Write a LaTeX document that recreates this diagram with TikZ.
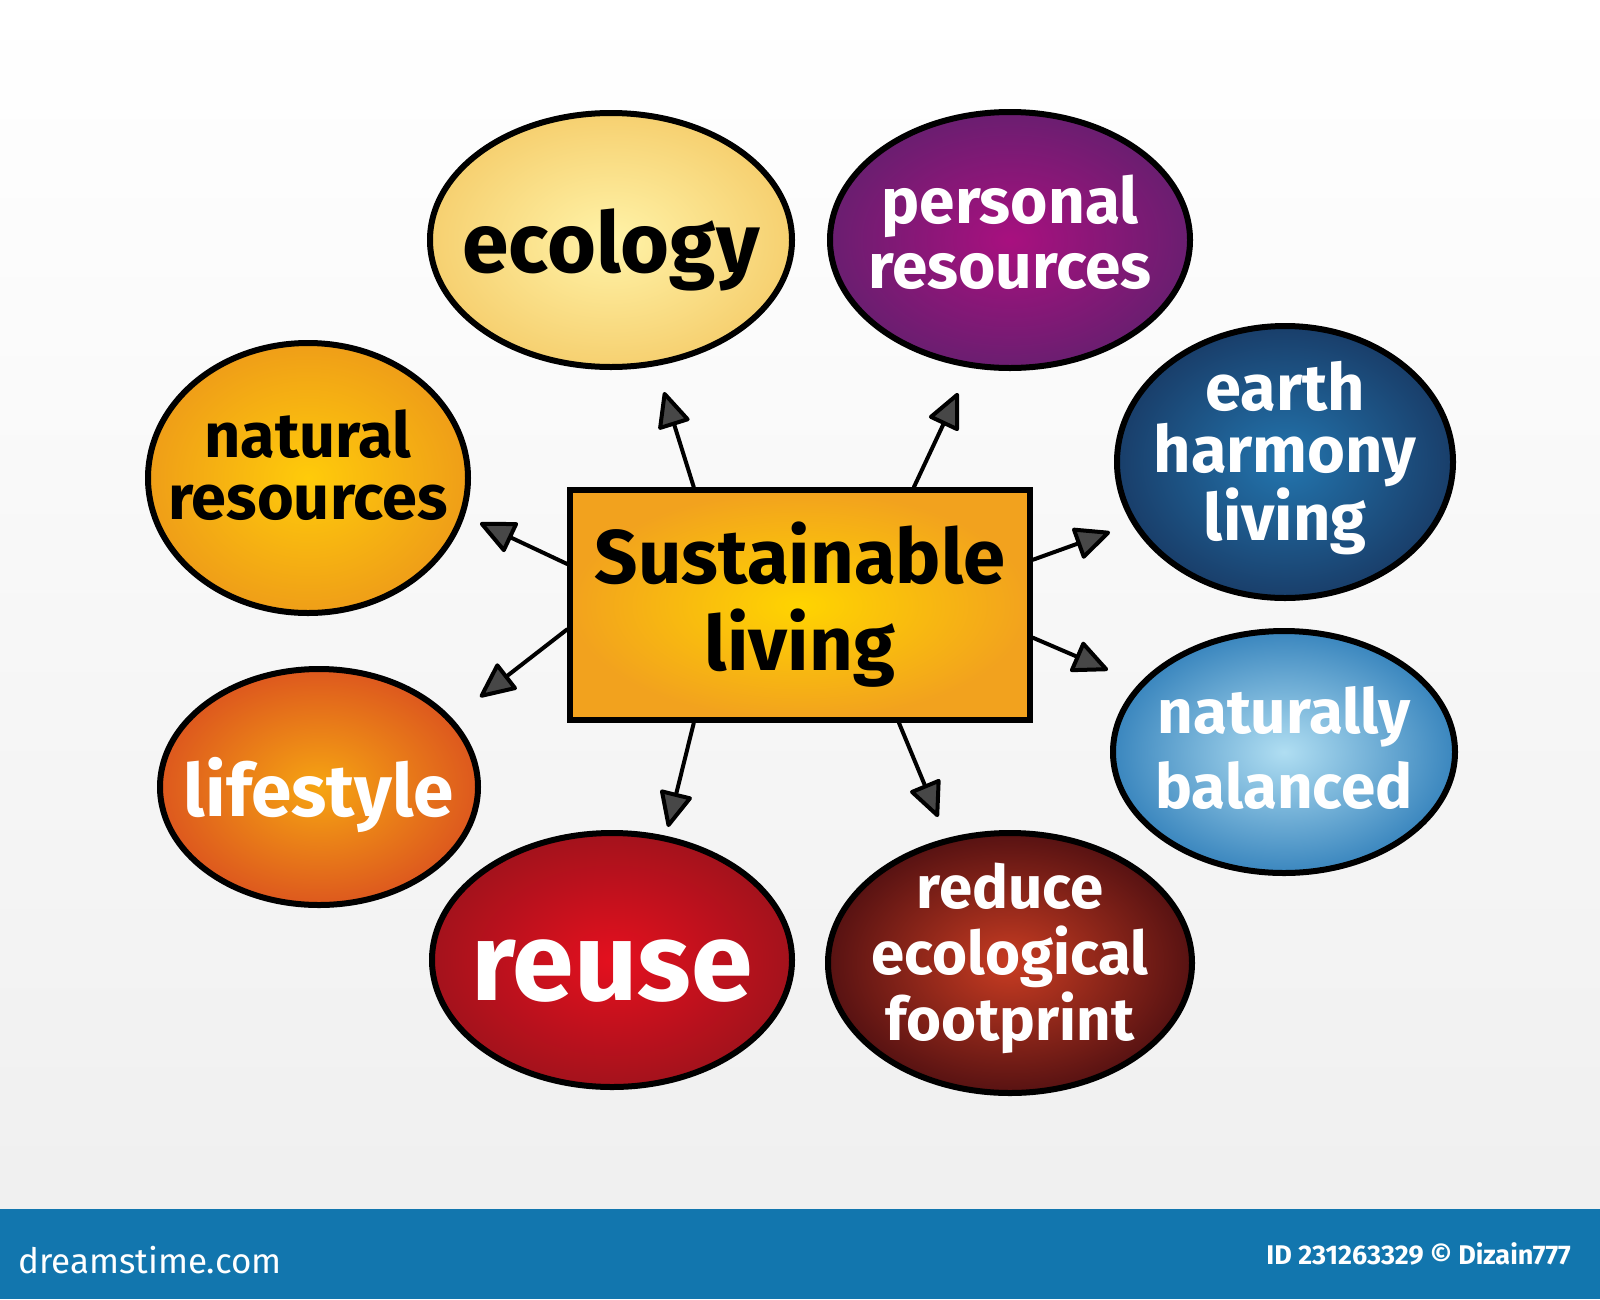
\documentclass[tikz,border=0pt]{standalone}
\usepackage{fontspec}
\setmainfont{Fira Sans}
\usetikzlibrary{shapes.geometric, arrows.meta}

\definecolor{mainIn}{HTML}{FFD400}
\definecolor{mainOut}{HTML}{F2A21E}
\definecolor{ecoIn}{HTML}{FFF3A8}
\definecolor{ecoOut}{HTML}{F6D070}
\definecolor{persIn}{HTML}{A8107F}
\definecolor{persOut}{HTML}{6A1E70}
\definecolor{natIn}{HTML}{FFCB0A}
\definecolor{natOut}{HTML}{EF9E18}
\definecolor{earthIn}{HTML}{2375AE}
\definecolor{earthOut}{HTML}{193E6A}
\definecolor{lifeIn}{HTML}{F6A512}
\definecolor{lifeOut}{HTML}{DD581E}
\definecolor{balIn}{HTML}{B0DEF2}
\definecolor{balOut}{HTML}{3A86BE}
\definecolor{reuseIn}{HTML}{E4101E}
\definecolor{reuseOut}{HTML}{A3121C}
\definecolor{footIn}{HTML}{C83C22}
\definecolor{footOut}{HTML}{571212}
\definecolor{barBlue}{HTML}{1276AE}

\tikzset{
  bubble/.style={ellipse, draw=black, line width=6pt, inner sep=0pt, shade},
  bubtext/.style={align=center, inner sep=0pt},
  arr/.style={line width=4pt, line cap=round, -{Triangle[length=38pt, width=34pt, fill=black!72, line width=4pt, round]}}
}

\begin{document}
\begin{tikzpicture}[x=1pt, y=-1pt]
\useasboundingbox (0,0) rectangle (1600,1299);
\shade[top color=white, bottom color=black!6] (0,0) rectangle (1600,1209);
\fill[barBlue] (0,1209) rectangle (1600,1299);

% centre box
\node[draw, line width=6pt, minimum width=460pt, minimum height=230pt, shade, inner color=mainIn, outer color=mainOut,
  bubtext, font=\bfseries\fontsize{76}{87}\selectfont] (main) at (800,605) {Sustainable\\living};

% the eight topics
\foreach \nm/\x/\y/\rx/\ry/\fs/\ls/\dy/\tc/\tx in {
  eco/611/240/181/127/84/90/10/black/{ecology},
  pers/1010/240/180/128/64/65/-8/white/{personal\\resources},
  nat/308/478/160/135/63/62/-13/black/{natural\\resources},
  earth/1285/462/168/136/65/62/-4/white/{earth\\harmony\\living},
  life/319/787/159/118/73/80/8/white/{lifestyle},
  bal/1284/752/171/121/62/75/-4/white/{naturally\\balanced},
  reuse/612/960/180/127/111/120/11/white/{reuse},
  foot/1010/963/182/130/60/66/-5/white/{reduce\\ecological\\footprint}}{
  \node[bubble, minimum width={2*\rx pt}, minimum height={2*\ry pt}, inner color=\nm In, outer color=\nm Out] (\nm) at (\x,\y) {};
  \node[bubtext, text=\tc, font=\bfseries\fontsize{\fs}{\ls}\selectfont] (\nm txt) at ({\x},{\y+\dy}) {\tx};
}

% arrows out of the box
\foreach \a/\px/\py [count=\i] in {132/664/392, 46/958/393, 170/480/523, 186/480/697,
  11/1110/532, 352/1108/670, 228/668/827, 310/938/817}{
  \coordinate (tip\i) at (\px,\py);
  \draw[arr] (main.\a) -- (tip\i);
}

\node[anchor=west, text=white, inner sep=0pt, font=\fontsize{35}{35}\selectfont] (site) at (18,1260) {dreamstime.com};
\node[anchor=east, text=white, inner sep=0pt, font=\bfseries\fontsize{27}{27}\selectfont] (credit) at (1571,1254) {ID 231263329 © Dizain777};
\end{tikzpicture}
\end{document}
